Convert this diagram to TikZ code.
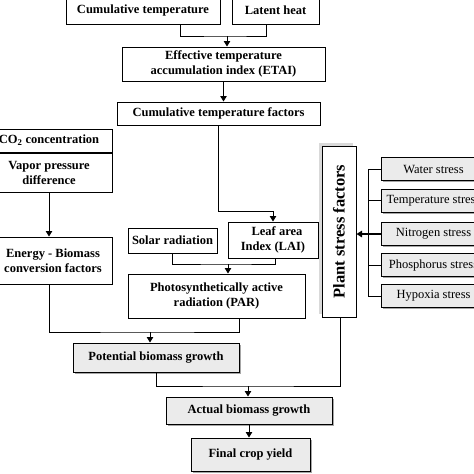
\documentclass[tikz,border=0pt]{standalone}
\usepackage{fontspec}
\setmainfont{Liberation Serif}
\usetikzlibrary{arrows.meta,positioning,shadows}

\begin{document}
\begin{tikzpicture}[
      x=1pt, y=-1pt,
      >={Triangle[length=5.5pt,width=6.5pt]},
      line width=1pt,
      box/.style={draw, fill=white, line width=1pt, inner sep=1pt,
        font=\fontsize{12.5}{15}\selectfont\bfseries, align=center},
      gbox/.style={box, fill=black!8,
        drop shadow={shadow xshift=1.5pt, shadow yshift=-1.5pt, fill=black!35, opacity=1}},
      sbox/.style={gbox, font=\fontsize{12.5}{15}\selectfont,
        minimum width=105pt, minimum height=23pt}]
    \useasboundingbox (0,0) rectangle (474,474);

    % temperature branch
    \node[box, minimum width=154pt, minimum height=28pt] (cumt) at (143,10) {Cumulative temperature};
    \node[box, minimum width=87pt, minimum height=28pt] (lheat) at (275.5,10) {Latent heat};
    \node[box, minimum width=203pt, minimum height=34pt] (etai) at (223.5,64)
      {Effective temperature\\accumulation index (ETAI)};
    \node[box, minimum width=203pt, minimum height=23pt] (ctf) at (218.5,113.5) {Cumulative temperature factors};

    % left column
    \node[box, minimum width=126pt, minimum height=23pt] (co2) at (49,140.5) {CO\textsubscript{2} concentration};
    \node[box, minimum width=126pt, minimum height=39pt] (vpd) at (49,172.5) {Vapor pressure\\difference};
    \node[box, minimum width=118pt, minimum height=47pt] (ebc) at (53,260.5) {Energy - Biomass\\conversion factors};

    % radiation
    \node[box, minimum width=89pt, minimum height=25pt] (solar) at (172.5,240.5) {Solar radiation};
    \node[box, minimum width=90pt, minimum height=36pt] (lai) at (273,240) {\hspace*{8pt}Leaf area\\Index (LAI)};
    \node[box, minimum width=177pt, minimum height=44pt] (par) at (216.5,296)
      {Photosynthetically active\\radiation (PAR)};

    % stress factors
    \node[box, minimum width=34pt, minimum height=171pt,
      drop shadow={shadow xshift=-3pt, shadow yshift=3pt, fill=black!15, opacity=1}] (psf) at (339,231.5) {};
    \node[rotate=90, font=\fontsize{16.5}{18}\selectfont\bfseries] (psft) at (psf.center) {Plant stress factors};
    \node[sbox] (water) at (433.5,169) {Water stress};
    \node[sbox] (temp) at (433.5,200.5) {Temperature stress};
    \node[sbox] (nitro) at (433.5,234) {Nitrogen stress};
    \node[sbox] (phos) at (433.5,265) {Phosphorus stress};
    \node[sbox] (hypo) at (433.5,296) {Hypoxia stress};

    % biomass and yield
    \node[gbox, minimum width=166pt, minimum height=29pt] (pbg) at (156,357.5) {Potential biomass growth};
    \node[gbox, minimum width=166pt, minimum height=27pt] (abg) at (249,410.5) {Actual biomass growth};
    \node[gbox, minimum width=119pt, minimum height=33pt] (fcy) at (250.5,454.5) {Final crop yield};

    % junctions
    \coordinate (j1) at (227,36);
    \coordinate (j2) at (0,211);
    \coordinate (j3) at (150,332);
    \coordinate (j4) at (228,264);
    \coordinate (j5) at (248,386);
    \coordinate (bx) at (368,0);

    \draw ([xshift=37pt]cumt.south) |- (j1) -| ([xshift=-9.5pt]lheat.south);
    \draw[->] (j1) -- (j1 |- etai.north);
    \draw[->] (etai.south) -- (etai.south |- ctf.north);
    \draw[->] (ctf.south) -- (ctf.south |- j2) -| (lai.north);
    \draw[->] (vpd.south) -- (vpd.south |- ebc.north);
    \draw (solar.south) |- (j4) -| ([xshift=2pt]lai.south);
    \draw[->] (j4) -- (j4 |- par.north);
    \draw ([xshift=-4pt]ebc.south) |- (j3) -| ([xshift=22.5pt]par.south);
    \draw[->] (j3) -- (j3 |- pbg.north);
    \foreach \s in {water,temp,nitro,phos,hypo}
      \draw (\s.west) -- (\s.west -| bx);
    \draw (water.west -| bx) -- (hypo.west -| bx);
    \draw[->, line width=1.6pt] (nitro.west) -- (nitro.west -| psf.east);
    \draw (pbg.south) |- (j5) -| ([xshift=1pt]psf.south);
    \draw[->] (j5) -- (j5 |- abg.north);
    \draw[->] (abg.south) -- (abg.south |- fcy.north);
  \end{tikzpicture}
\end{document}
